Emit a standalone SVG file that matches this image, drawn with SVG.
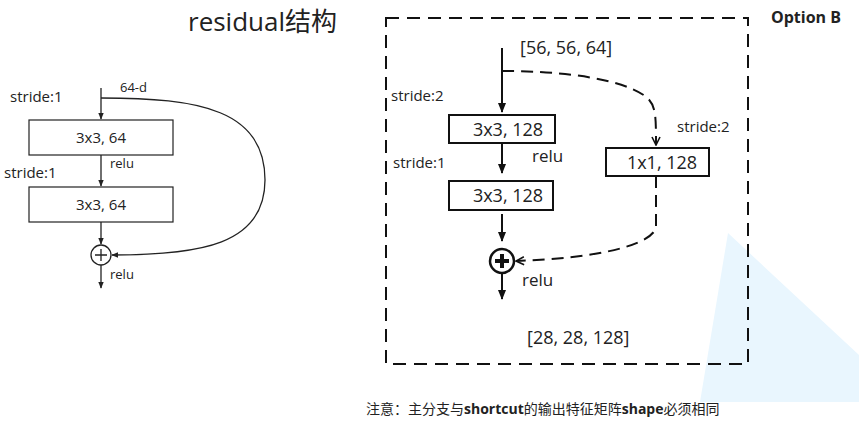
<svg xmlns="http://www.w3.org/2000/svg" width="859" height="423" viewBox="0 0 859 423">
<style>
text{font-family:"Open Sans","Noto Sans","Liberation Sans","Noto Sans CJK SC",sans-serif;fill:#222}
.s{font-size:15px}
.b{font-size:15px;text-anchor:middle}
.box{fill:#fff;stroke:#222;stroke-width:1.2}
.rbox{fill:#fff;stroke:#111;stroke-width:2}
.ln{stroke:#222;stroke-width:1.3;fill:none}
.rl{stroke:#111;stroke-width:2;fill:none}
.dl{stroke:#111;stroke-width:2;fill:none;stroke-dasharray:12,7}
</style>
<defs>
<marker id="a" viewBox="0 0 10 10" refX="9" refY="5" markerWidth="7" markerHeight="7" orient="auto" markerUnits="userSpaceOnUse"><path d="M0,1 L10,5 L0,9 z" fill="#222"/></marker>
<marker id="b" viewBox="0 0 10 10" refX="9" refY="5" markerWidth="10" markerHeight="10" orient="auto" markerUnits="userSpaceOnUse"><path d="M0,1 L10,5 L0,9 z" fill="#111"/></marker>
<marker id="o" viewBox="0 0 10 10" refX="9" refY="5" markerWidth="10" markerHeight="10" orient="auto" markerUnits="userSpaceOnUse"><path d="M1,1 L9,5 L1,9" fill="none" stroke="#111" stroke-width="1.6"/></marker>
</defs>
<rect width="859" height="423" fill="#fff"/>
<polygon points="728,233 859,355 859,402 700,402" fill="#e9f6fe"/>
<text x="188" y="31" font-size="26">residual结构</text>
<text x="771" y="23" font-size="16" font-weight="bold">Option B</text>
<rect x="386" y="18" width="362" height="346" fill="none" stroke="#111" stroke-width="2" stroke-dasharray="13,8"/>
<g id="connectors">
<path class="ln" d="M101,88 V119" marker-end="url(#a)"/>
<path class="ln" d="M101,155 V186" marker-end="url(#a)"/>
<path class="ln" d="M101,222 V244" marker-end="url(#a)"/>
<path class="ln" d="M101,265 V288" marker-end="url(#a)"/>
<path class="ln" d="M101,98 C200,98 265,110 265,180 C265,245 200,255 112,255" marker-end="url(#a)"/>
<path class="rl" d="M502,48 V112" marker-end="url(#b)"/>
<path class="rl" d="M502,143 V173" marker-end="url(#b)"/>
<path class="rl" d="M502,214 V241" marker-end="url(#b)"/>
<path class="rl" d="M502,274 V299" marker-end="url(#b)"/>
<path class="dl" d="M502,71 C560,71 620,78 645,96 C656,104 656,115 656,145" marker-end="url(#o)"/>
<path class="dl" d="M656,176 V228 C650,245 600,258 516,261" marker-end="url(#o)"/>
</g>
<g id="left-nodes">
<rect class="box" x="29" y="120" width="144" height="35"/><text class="b" x="101" y="143">3x3, 64</text>
<rect class="box" x="29" y="187" width="144" height="35"/><text class="b" x="101" y="210">3x3, 64</text>
<circle cx="101" cy="255" r="10" fill="#fff" stroke="#222" stroke-width="1.3"/>
<path d="M95,255 H107 M101,249 V261" stroke="#222" stroke-width="1.3"/>
<text x="120" y="92" font-size="13">64-d</text>
<text x="10" y="102" class="s">stride:1</text>
<text x="4" y="178" class="s">stride:1</text>
<text x="110" y="168" font-size="13">relu</text>
<text x="110" y="279" font-size="13">relu</text>
</g>
<g id="right-nodes">
<rect class="rbox" x="449" y="115" width="106" height="28"/><text x="508" y="136" font-size="18" text-anchor="middle">3x3, 128</text>
<rect class="rbox" x="449" y="181" width="104" height="29" stroke-width="2.5"/><text x="508" y="202" font-size="18" text-anchor="middle">3x3, 128</text>
<rect class="rbox" x="606" y="148" width="103" height="28"/><text x="662" y="169" font-size="18" text-anchor="middle">1x1, 128</text>
<circle cx="502" cy="261" r="12" fill="#fff" stroke="#111" stroke-width="2.5"/>
<path d="M495,261 H509 M502,254 V268" stroke="#111" stroke-width="4"/>
<text x="520" y="54" font-size="18">[56, 56, 64]</text>
<text x="391" y="101" class="s">stride:2</text>
<text x="677" y="132" class="s">stride:2</text>
<text x="393" y="168" class="s">stride:1</text>
<text x="532" y="162" font-size="17">relu</text>
<text x="522" y="286" font-size="17">relu</text>
<text x="527" y="344" font-size="18">[28, 28, 128]</text>
</g>
<text x="366" y="414" font-size="14">注意：主分支与<tspan font-weight="bold">shortcut</tspan>的输出特征矩阵<tspan font-weight="bold">shape</tspan>必须相同</text>
</svg>
